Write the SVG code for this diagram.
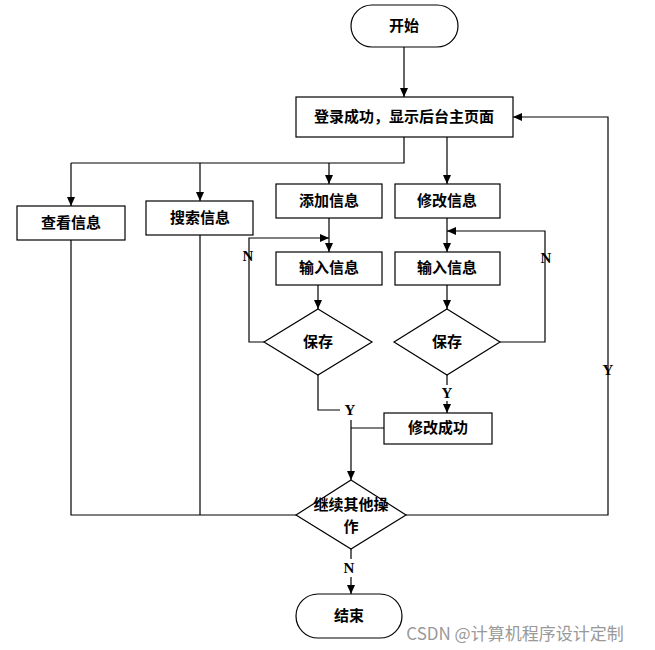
<svg xmlns="http://www.w3.org/2000/svg" width="655" height="650" viewBox="0 0 655 650">
<style>
.s{fill:#fff;stroke:#000;stroke-width:1.2}
.t{font-family:"Liberation Serif","Noto Sans CJK SC",serif;font-size:15px;font-weight:bold;text-anchor:middle;dominant-baseline:central}
.c{fill:none;stroke:#000;stroke-width:1.2;marker-end:url(#a)}
.l{fill:none;stroke:#000;stroke-width:1.2}
</style>
<defs><marker id="a" markerWidth="10" markerHeight="10" refX="9" refY="5" orient="auto" markerUnits="userSpaceOnUse"><path d="M0,1 L9,5 L0,9 z"/></marker></defs>
<rect width="655" height="650" fill="#fff"/>
<g id="connectors">
<path class="c" d="M404,47 V97"/>
<path class="l" d="M404,137 V163 H71"/>
<path class="c" d="M71,163 V206"/>
<path class="c" d="M200,163 V201"/>
<path class="c" d="M329,163 V184"/>
<path class="c" d="M447,137 V184"/>
<path class="c" d="M329,218 V252"/>
<path class="c" d="M447,218 V252"/>
<path class="c" d="M318,285 V309"/>
<path class="c" d="M447,285 V309"/>
<path class="c" d="M264,342 H249 V238 H329"/>
<path class="c" d="M500,342 H545 V231 H447"/>
<path class="l" d="M318,375 V410 H340"/>
<path class="c" d="M447,375 V385 M447,401 V413"/>
<path class="l" d="M384,428 H351"/>
<path class="c" d="M351,420 V480"/>
<path class="l" d="M71,240 V515 H296 M200,235 V515"/>
<path class="c" d="M406,515 H608 V117 H513"/>
<path class="c" d="M351,549 V559 M351,577 V594"/>
</g>
<g id="start"><rect class="s" x="351" y="5" width="107" height="42" rx="21"/><text class="t" x="404" y="26">开始</text></g>
<g id="home"><rect class="s" x="296" y="97" width="217" height="40"/><text class="t" x="404" y="117">登录成功，显示后台主页面</text></g>
<g id="view"><rect class="s" x="17" y="206" width="108" height="34"/><text class="t" x="71" y="223">查看信息</text></g>
<g id="search"><rect class="s" x="146" y="201" width="107" height="34"/><text class="t" x="200" y="218">搜索信息</text></g>
<g id="add"><rect class="s" x="276" y="184" width="106" height="34"/><text class="t" x="329" y="201">添加信息</text></g>
<g id="edit"><rect class="s" x="395" y="184" width="105" height="34"/><text class="t" x="447" y="201">修改信息</text></g>
<g id="input1"><rect class="s" x="276" y="252" width="106" height="33"/><text class="t" x="329" y="268">输入信息</text></g>
<g id="input2"><rect class="s" x="395" y="252" width="105" height="33"/><text class="t" x="447" y="268">输入信息</text></g>
<g id="save1"><path class="s" d="M318,309 L372,342 L318,375 L264,342 Z"/><text class="t" x="318" y="342">保存</text></g>
<g id="save2"><path class="s" d="M447,309 L500,342 L447,375 L394,342 Z"/><text class="t" x="447" y="342">保存</text></g>
<g id="editok"><rect class="s" x="384" y="413" width="108" height="31"/><text class="t" x="438" y="428">修改成功</text></g>
<g id="cont"><path class="s" d="M351,480 L406,515 L351,549 L296,515 Z"/><text class="t" x="351" y="505">继续其他操</text><text class="t" x="351" y="527">作</text></g>
<g id="end"><rect class="s" x="296" y="594" width="106" height="44" rx="22"/><text class="t" x="349" y="616">结束</text></g>
<g id="labels">
<text class="t" x="248" y="256">N</text><text class="t" x="546" y="258">N</text>
<text class="t" x="350" y="410">Y</text><text class="t" x="447" y="393">Y</text>
<text class="t" x="608" y="370">Y</text><text class="t" x="349" y="568">N</text>
</g>
<text x="515" y="632" font-family="Noto Sans CJK SC,sans-serif" font-size="17" fill="#999" text-anchor="middle" dominant-baseline="central">CSDN @计算机程序设计定制</text>
</svg>
